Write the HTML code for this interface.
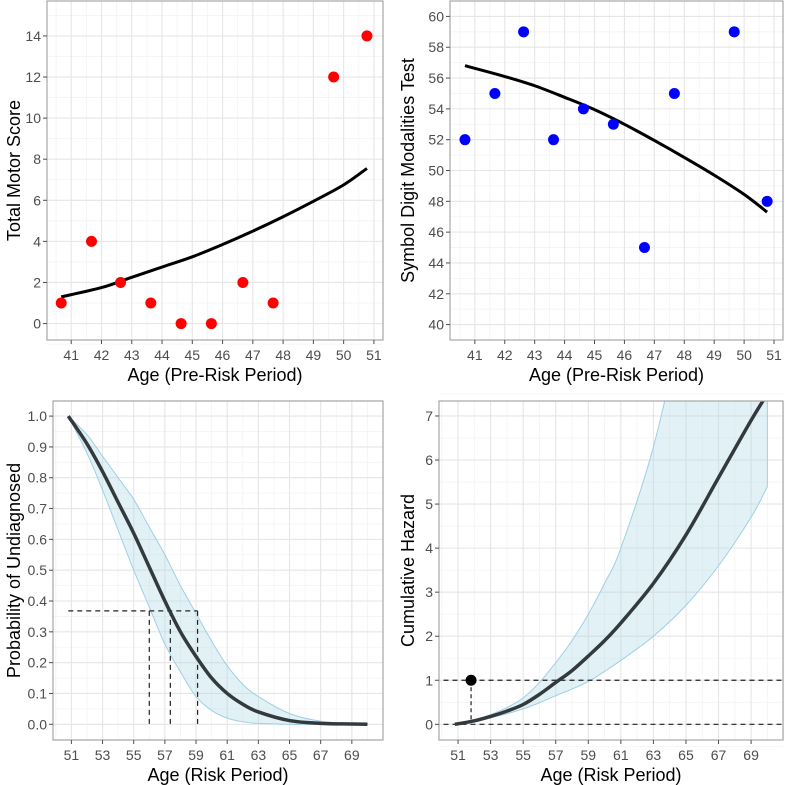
<!DOCTYPE html>
<html><head><meta charset="utf-8"><style>
html,body{margin:0;padding:0;background:#fff}
svg{display:block;font-family:"Liberation Sans",Arial,sans-serif}
.tk{fill:#4d4d4d;font-size:14px}
.ti{fill:#000;font-size:18px}
</style></head><body>
<svg id="c" width="785" height="785" viewBox="0 0 785 785"></svg>
<script>
// Panel A data
const ageA = [40.67,41.67,42.63,43.63,44.63,45.63,46.67,47.67,49.67,50.77];
const tmsA = [1,4,2,1,0,0,2,1,12,14];
const fitAx = [40.67,42,43,44,45,46,47,48,49,50,50.77];
const fitAy = [1.3,1.75,2.25,2.75,3.25,3.85,4.5,5.2,5.95,6.75,7.55];
// Panel B data
const sdmtB = [52,55,59,52,54,53,45,55,59,48];
const fitBx = [40.67,42,43,44,45,46,47,48,49,50,50.77];
const fitBy = [56.8,56.1,55.5,54.75,53.95,53.0,51.95,50.85,49.7,48.45,47.3];
// Panel C data
const survX = [50.8,52,53,54,55,56,57,58,59,60,61,62,63,65,67,69,70];
const survMean = [1.0,0.91,0.82,0.72,0.62,0.51,0.40,0.30,0.22,0.15,0.10,0.065,0.04,0.012,0.003,0.001,0.0];
const survUp = [1.0,0.94,0.87,0.80,0.73,0.64,0.55,0.45,0.36,0.27,0.19,0.13,0.09,0.035,0.01,0.003,0.002];
const survLo = [1.0,0.88,0.76,0.63,0.50,0.38,0.26,0.17,0.09,0.045,0.02,0.008,0.003,0.0,0.0,0.0,0.0];
const survRef = [0.368];
const survRefAges = [56.0,57.35,59.1];
// Panel D data
const hazX = [50.8,52,53,54,55,56,57,58,59,60,61,63,65,67,69,70];
const hazMean = [0.0,0.08,0.18,0.3,0.45,0.68,0.95,1.22,1.55,1.9,2.3,3.2,4.3,5.6,6.9,7.5];
const hazUp = [0.0,0.1,0.22,0.38,0.6,0.95,1.4,1.9,2.5,3.2,4.0,6.3,9.5,13,17,19];
const hazLo = [0.0,0.07,0.15,0.24,0.35,0.49,0.65,0.8,0.97,1.2,1.45,2.0,2.7,3.6,4.7,5.4];
const hazPoint = [51.8,1];

const svg=document.getElementById('c');
const NS='http://www.w3.org/2000/svg';
function mk(tag,attrs,parent){const e=document.createElementNS(NS,tag);for(const k in attrs)e.setAttribute(k,attrs[k]);(parent||svg).appendChild(e);return e;}
function crPath(pts){let d='M'+pts[0][0]+','+pts[0][1];for(let i=0;i<pts.length-1;i++){const p0=pts[i-1]||pts[i],p1=pts[i],p2=pts[i+1],p3=pts[i+2]||p2;
d+=' C'+(p1[0]+(p2[0]-p0[0])/6)+','+(p1[1]+(p2[1]-p0[1])/6)+' '+(p2[0]-(p3[0]-p1[0])/6)+','+(p2[1]-(p3[1]-p1[1])/6)+' '+p2[0]+','+p2[1];}return d;}

function panel(o){
  const g=mk('g',{});
  const sx=v=>o.x0+(v-o.dx[0])/(o.dx[1]-o.dx[0])*(o.x1-o.x0);
  const sy=v=>o.y1-(v-o.dy[0])/(o.dy[1]-o.dy[0])*(o.y1-o.y0);
  const cid='clip-'+o.name;
  const cp=mk('clipPath',{id:cid},g);mk('rect',{x:o.x0,y:o.y0,width:o.x1-o.x0,height:o.y1-o.y0},cp);
  const grid=mk('g',{},g);
  o.xminor.forEach(v=>mk('line',{x1:sx(v),x2:sx(v),y1:o.y0,y2:o.y1,stroke:'#f3f3f3','stroke-width':0.8},grid));
  o.yminor.forEach(v=>mk('line',{y1:sy(v),y2:sy(v),x1:o.x0,x2:o.x1,stroke:'#f3f3f3','stroke-width':0.8},grid));
  o.xmajor.forEach(v=>mk('line',{x1:sx(v),x2:sx(v),y1:o.y0,y2:o.y1,stroke:'#e6e6e6','stroke-width':1.1},grid));
  o.ymajor.forEach(v=>mk('line',{y1:sy(v),y2:sy(v),x1:o.x0,x2:o.x1,stroke:'#e6e6e6','stroke-width':1.1},grid));
  const plot=mk('g',{'clip-path':'url(#'+cid+')'},g);
  o.draw(plot,sx,sy);
  const bd=mk('rect',{x:o.x0,y:o.y0,width:o.x1-o.x0,height:o.y1-o.y0,fill:'none',stroke:'#a6a6a6','stroke-width':1.2},g);
  
  const xa=mk('g',{},g);
  o.xmajor.forEach(v=>{mk('line',{x1:sx(v),x2:sx(v),y1:o.y1,y2:o.y1+4,stroke:'#4d4d4d'},xa);
    const t=mk('text',{x:sx(v),y:o.y1+20,'text-anchor':'middle',class:'tk'},xa);t.textContent=v;});
  const ya=mk('g',{},g);
  o.ymajor.forEach(v=>{mk('line',{x1:o.x0-4,x2:o.x0,y1:sy(v),y2:sy(v),stroke:'#4d4d4d'},ya);
    const t=mk('text',{x:o.x0-6,y:sy(v)+5,'text-anchor':'end',class:'tk'},ya);t.textContent=o.yfmt?o.yfmt(v):v;});
  const xt=mk('text',{x:(o.x0+o.x1)/2,y:o.y1+41,'text-anchor':'middle',class:'ti'},g);xt.textContent=o.xtitle;
  
  const yt=mk('text',{x:0,y:0,'text-anchor':'middle',class:'ti',transform:'translate('+o.ytx+','+((o.y0+o.y1)/2)+') rotate(-90)'},g);yt.textContent=o.ytitle;
  
}
const range=(a,b,s)=>{const r=[];for(let v=a;v<=b+1e-9;v+=s)r.push(Math.round(v*100)/100);return r;};

panel({name:'motor-panel',x0:47,x1:383,y0:1,y1:340,dx:[40.2,51.3],dy:[-0.8,15.7],
  xmajor:range(41,51,1),xminor:range(40.5,51,1),ymajor:range(0,14,2),yminor:range(-1,15,1),
  xtitle:'Age (Pre-Risk Period)',ytitle:'Total Motor Score',ytx:20,
  draw(p,sx,sy){
    const l=mk('path',{d:crPath(fitAx.map((v,i)=>[sx(v),sy(fitAy[i])])),fill:'none',stroke:'#000','stroke-width':3},p);
    
    ageA.forEach((v,i)=>{const c=mk('circle',{cx:sx(v),cy:sy(tmsA[i]),r:5.5,fill:'#ff0000'},p);
      });
  }});

panel({name:'sdmt-panel',x0:450,x1:783,y0:1,y1:340,dx:[40.17,51.3],dy:[39,61],
  xmajor:range(41,51,1),xminor:range(40.5,51,1),ymajor:range(40,60,2),yminor:range(39,61,1),
  xtitle:'Age (Pre-Risk Period)',ytitle:'Symbol Digit Modalities Test',ytx:414,
  draw(p,sx,sy){
    const l=mk('path',{d:crPath(fitBx.map((v,i)=>[sx(v),sy(fitBy[i])])),fill:'none',stroke:'#000','stroke-width':3},p);
    
    ageA.forEach((v,i)=>{const c=mk('circle',{cx:sx(v),cy:sy(sdmtB[i]),r:5.5,fill:'#0000ff'},p);
      });
  }});

panel({name:'survival-panel',x0:53,x1:383,y0:401,y1:740,dx:[49.82,71.0],dy:[-0.051,1.049],
  xmajor:range(51,69,2),xminor:range(50,71,1),ymajor:range(0,1,0.1),yminor:range(-0.05,1.05,0.05),
  yfmt:v=>v.toFixed(1),xtitle:'Age (Risk Period)',ytitle:'Probability of Undiagnosed',ytx:20,
  draw(p,sx,sy){
    const up=survX.map((v,i)=>[sx(v),sy(survUp[i])]),lo=survX.map((v,i)=>[sx(v),sy(survLo[i])]).reverse();
    const rb=mk('path',{d:crPath(up)+' L'+crPath(lo).slice(1)+' Z',fill:'#add8e6','fill-opacity':0.35,stroke:'#9fd0e2','stroke-width':1},p);
    
    const r=survRef[0];
    const h=mk('line',{x1:sx(survX[0]),x2:sx(survRefAges[2]),y1:sy(r),y2:sy(r),stroke:'#222','stroke-dasharray':'5,4','stroke-width':1.2},p);
    
    survRefAges.forEach(a=>{const v=mk('line',{x1:sx(a),x2:sx(a),y1:sy(r),y2:sy(0),stroke:'#222','stroke-dasharray':'5,4','stroke-width':1.2},p);
      });
    const l=mk('path',{d:crPath(survX.map((v,i)=>[sx(v),sy(survMean[i])])),fill:'none',stroke:'#333a3d','stroke-width':3.5},p);
    
  }});

panel({name:'hazard-panel',x0:439,x1:783,y0:401,y1:740,dx:[49.83,70.96],dy:[-0.356,7.34],
  xmajor:range(51,69,2),xminor:range(50,71,1),ymajor:range(0,7,1),yminor:range(-0.5,7.5,0.5),
  xtitle:'Age (Risk Period)',ytitle:'Cumulative Hazard',ytx:414,
  draw(p,sx,sy){
    const up=hazX.map((v,i)=>[sx(v),sy(hazUp[i])]),lo=hazX.map((v,i)=>[sx(v),sy(hazLo[i])]).reverse();
    const rb=mk('path',{d:crPath(up)+' L'+crPath(lo).slice(1)+' Z',fill:'#add8e6','fill-opacity':0.35,stroke:'#9fd0e2','stroke-width':1},p);
    
    [0,1].forEach(v=>{const h=mk('line',{x1:sx(49),x2:sx(72),y1:sy(v),y2:sy(v),stroke:'#222','stroke-dasharray':'5,4','stroke-width':1.2},p);
      });
    const vl=mk('line',{x1:sx(hazPoint[0]),x2:sx(hazPoint[0]),y1:sy(hazPoint[1]),y2:sy(0.08),stroke:'#222','stroke-dasharray':'4,3','stroke-width':1.2},p);
    
    const l=mk('path',{d:crPath(hazX.map((v,i)=>[sx(v),sy(hazMean[i])])),fill:'none',stroke:'#333a3d','stroke-width':3.5},p);
    
    const c=mk('circle',{cx:sx(hazPoint[0]),cy:sy(hazPoint[1]),r:5.5,fill:'#000'},p);
    
  }});
</script>
</body></html>
